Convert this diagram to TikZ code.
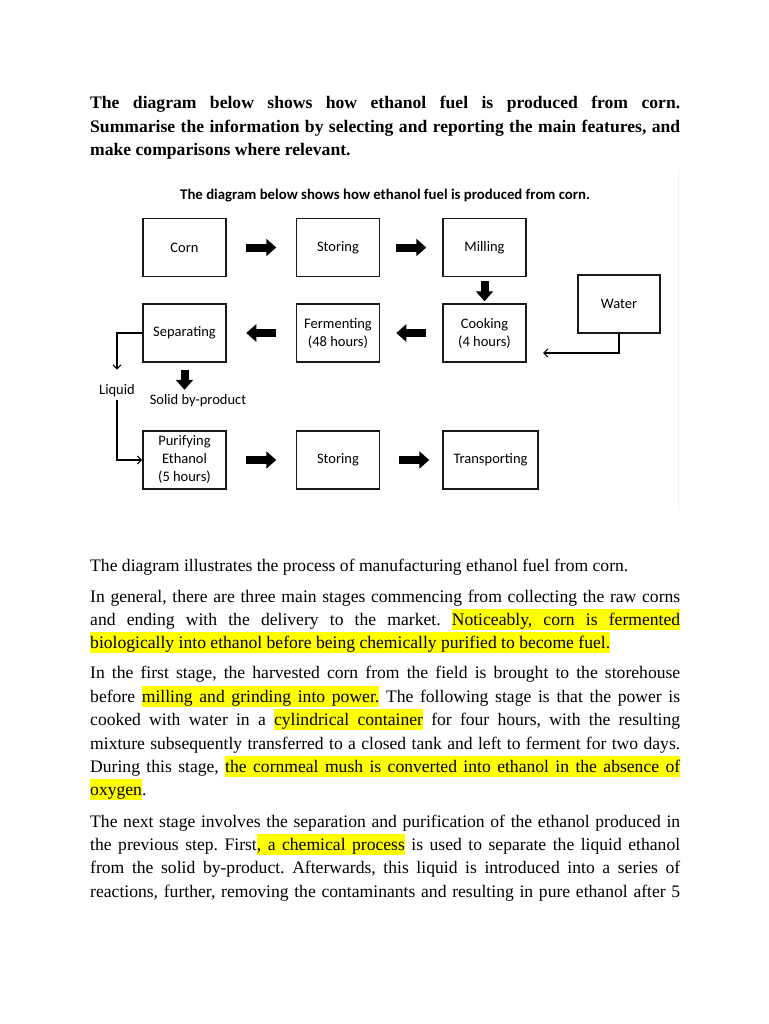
\documentclass[tikz,border=0pt]{standalone}
\usepackage{fontspec}
\setmainfont{Liberation Serif}
\newfontfamily\diagfont{Carlito}
\usetikzlibrary{arrows.meta}
\usetikzlibrary{calc}
\definecolor{hlyellow}{RGB}{255,255,0}
\frenchspacing
% highlighting, word by word, so that the spaces still stretch
\newcommand{\hlspace}{{\color{hlyellow}\leaders\vrule height 16.5pt depth 5pt\hskip\fontdimen2\font plus\fontdimen3\font minus\fontdimen4\font}}
\newcommand{\hlword}[1]{{\setlength{\fboxsep}{0pt}\colorbox{hlyellow}{\rule[-5pt]{0pt}{21.5pt}#1}}}
\def\hlsplit#1 #2\relax{\hlword{#1}\ifx\relax#2\relax\else\hlspace\hlsplit#2\relax\fi}
\newcommand{\hl}[1]{\hlsplit#1 \relax}
\newcommand{\jline}[1]{\makebox[590pt][s]{#1}}

\begin{document}
\begin{tikzpicture}[x=1pt,y=-1pt,
  txt/.style={anchor=base west,inner sep=0pt,font=\fontsize{17.6}{23}\selectfont},
  boldtxt/.style={txt,font=\fontsize{17.6}{23}\selectfont\bfseries},
  box/.style={draw=black!90,line width=1.6pt,minimum width=83pt,minimum height=58pt,
    align=center,inner sep=0pt,font=\diagfont\fontsize{14.5}{18}\selectfont},
  lbl/.style={inner sep=3pt,font=\diagfont\fontsize{14.5}{18}\selectfont},
  fat/.style={line width=8pt,-{Triangle[length=10pt,width=17pt]}},
  thin/.style={line width=1.1pt,-{Straight Barb[length=4pt,width=8pt]}}]
\useasboundingbox (0,0) rectangle (768,1024);
\fill[white] (0,0) rectangle (768,1024);

%task
\node[boldtxt] (q1) at (90,109) {\jline{The diagram below shows how ethanol fuel is produced from corn.}};
\node[boldtxt] (q2) at (90,132.5) {\jline{Summarise the information by selecting and reporting the main features, and}};
\node[boldtxt] (q3) at (90,156) {make comparisons where relevant.};

%diagram
\draw[gray!12,line width=1pt] (678,170) -- (678,510);
\node[anchor=base west,inner sep=0pt,font=\diagfont\bfseries\fontsize{14.8}{18}\selectfont] (title) at (180,200) {The diagram below shows how ethanol fuel is produced from corn.};
\node[box] (corn) at (184.5,247.5) {Corn};
\node[box] (store1) at (338,247.5) {Storing};
\node[box] (mill) at (484.5,247.5) {Milling};
\node[box,minimum width=82pt] (water) at (619,304) {Water};
\node[box] (cook) at (484.5,333) {Cooking\\(4 hours)};
\node[box] (ferm) at (338,333) {Fermenting\\(48 hours)};
\node[box] (sep) at (184.5,333) {Separating};
\node[lbl] (liquid) at (117,391) {Liquid};
\node[lbl] (solid) at (198,401) {Solid by-product};
\node[box] (purify) at (184.5,460) {Purifying\\Ethanol\\(5 hours)};
\node[box] (store2) at (338,460) {Storing};
\node[box,minimum width=95pt] (transp) at (490.5,460) {Transporting};
\coordinate (wIn) at (543,353);

\draw[fat] ($(corn)!.5!(store1)$) ++(-15,0) -- ++(30,0); %top row
\draw[fat] ($(store1)!.5!(mill)$) ++(-15,0) -- ++(30,0);
\draw[fat] ($(mill)!.5!(cook)$) ++(0,-9) -- ++(0,20);
\draw[fat] ($(cook)!.5!(ferm)$) ++(15,0) -- ++(-30,0); %middle row
\draw[fat] ($(ferm)!.5!(sep)$) ++(15,0) -- ++(-30,0);
\draw[fat] (sep.south) ++(0,7) -- ++(0,20);
\draw[fat] ($(purify)!.5!(store2)$) ++(-15,0) -- ++(30,0); %bottom row
\draw[fat] ($(store2)!.5!(transp)$) ++(-15,0) -- ++(30,0);
\draw[thin] (water.south) |- (wIn);
\draw[thin,shorten >=12pt] (sep.west) -| (liquid.north);
\draw[thin] (liquid.south) |- (purify.west);

%answer
\node[txt] (p1) at (90,571) {The diagram illustrates the process of manufacturing ethanol fuel from corn.};
\node[txt] (p2a) at (90,602) {\jline{In general, there are three main stages commencing from collecting the raw corns}};
\node[txt] (p2b) at (90,625) {\jline{and ending with the delivery to the market. \hl{Noticeably, corn is fermented}}};
\node[txt] (p2c) at (90,648) {\hl{biologically into ethanol before being chemically purified to become fuel.}};
\node[txt] (p3a) at (90,678) {\jline{In the first stage, the harvested corn from the field is brought to the storehouse}};
\node[txt] (p3b) at (90,702) {\jline{before \hl{milling and grinding into power.} The following stage is that the power is}};
\node[txt] (p3c) at (90,725) {\jline{cooked with water in a \hl{cylindrical container} for four hours, with the resulting}};
\node[txt] (p3d) at (90,749) {\jline{mixture subsequently transferred to a closed tank and left to ferment for two days.}};
\node[txt] (p3e) at (90,772) {\jline{During this stage, \hl{the cornmeal mush is converted into ethanol in the absence of}}};
\node[txt] (p3f) at (90,795) {\hl{oxygen}.};
\node[txt] (p4a) at (90,827) {\jline{The next stage involves the separation and purification of the ethanol produced in}};
\node[txt] (p4b) at (90,850) {\jline{the previous step. First\hl{, a chemical process} is used to separate the liquid ethanol}};
\node[txt] (p4c) at (90,873) {\jline{from the solid by-product. Afterwards, this liquid is introduced into a series of}};
\node[txt] (p4d) at (90,897) {\jline{reactions, further, removing the contaminants and resulting in pure ethanol after 5}};
\end{tikzpicture}
\end{document}
